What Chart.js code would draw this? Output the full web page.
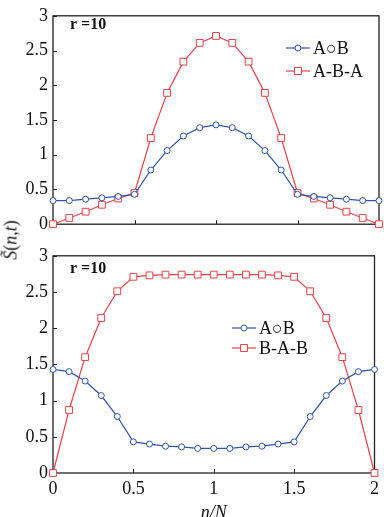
<!DOCTYPE html>
<html>
<head>
<meta charset="utf-8">
<script src="https://cdn.jsdelivr.net/npm/chart.js@4.4.0/dist/chart.umd.min.js"></script>
<style>
  body { margin: 0; background: #fff; }
  #wrap { position: relative; width: 384px; height: 517px; overflow: hidden; }
  .panel { position: absolute; left: 0; width: 384px; }
  #top { top: 0; height: 240px; }
  #bottom { top: 240px; height: 277px; }
  #ylabel {
    position: absolute; left: 11px; top: 240px;
    transform: translate(-50%, -50%) rotate(-90deg);
    font-family: "Liberation Serif", serif; font-size: 18px; white-space: nowrap;
    color: #111; z-index: 2;
  }
</style>
</head>
<body>
<div id="wrap">
  <div class="panel" id="top"><canvas id="topChart"></canvas></div>
  <div class="panel" id="bottom"><canvas id="bottomChart"></canvas></div>
  <div id="ylabel"><i>S&#771;</i>(<i>n</i>,<i>t</i>)</div>
</div>
<script>
// n/N positions
const nN = [0, 0.1, 0.2, 0.3, 0.4, 0.5, 0.6, 0.7, 0.8, 0.9, 1.0,
            1.1, 1.2, 1.3, 1.4, 1.5, 1.6, 1.7, 1.8, 1.9, 2.0];

// top panel
const topAoB = [0.34, 0.34, 0.36, 0.38, 0.40, 0.43, 0.78, 1.06, 1.27, 1.39, 1.43,
                1.39, 1.27, 1.06, 0.78, 0.43, 0.40, 0.38, 0.36, 0.34, 0.34];
const topABA = [0, 0.09, 0.18, 0.28, 0.37, 0.45, 1.24, 1.89, 2.34, 2.61, 2.71,
                2.61, 2.34, 1.89, 1.24, 0.45, 0.37, 0.28, 0.18, 0.09, 0];

// bottom panel
const botAoB = [1.43, 1.40, 1.27, 1.07, 0.78, 0.43, 0.40, 0.37, 0.36, 0.34, 0.34,
                0.34, 0.36, 0.37, 0.40, 0.43, 0.78, 1.07, 1.27, 1.40, 1.43];
const botBAB = [0, 0.87, 1.60, 2.14, 2.51, 2.71, 2.73, 2.74, 2.74, 2.74, 2.74,
                2.74, 2.74, 2.74, 2.73, 2.71, 2.51, 2.14, 1.60, 0.87, 0];

const panelLabel = 'r =10';
const BLUE = '#2f56a6';
const RED = '#e2444b';
const FONT = '"Liberation Serif", "Times New Roman", serif';

const toPoints = vals => nN.map((x, i) => ({ x: x, y: vals[i] }));

function series(label, vals, color, style) {
  return {
    label: label,
    data: toPoints(vals),
    borderColor: color,
    borderWidth: 1.2,
    pointStyle: style,
    pointRadius: style === 'rect' ? 4.8 : 3,
    pointBorderWidth: 1,
    pointBorderColor: color,
    pointBackgroundColor: '#fff',
    clip: false
  };
}

// box frame with short inward ticks, drawn under the data
const frame = {
  id: 'frame',
  beforeDatasetsDraw(chart) {
    const { ctx, chartArea: a, scales: { x, y } } = chart;
    ctx.save();
    ctx.strokeStyle = '#222';
    ctx.lineWidth = 1.3;
    ctx.strokeRect(a.left, a.top, a.right - a.left, a.bottom - a.top);
    ctx.lineWidth = 1;
    ctx.beginPath();
    x.ticks.forEach(t => {
      const px = Math.round(x.getPixelForValue(t.value)) + 0.5;
      ctx.moveTo(px, a.bottom);
      ctx.lineTo(px, a.bottom - 4);
    });
    y.ticks.forEach(t => {
      const py = Math.round(y.getPixelForValue(t.value)) + 0.5;
      ctx.moveTo(a.left, py);
      ctx.lineTo(a.left + 4, py);
    });
    ctx.stroke();
    ctx.restore();
  }
};

// "r =10" tag and line+marker legend
const decor = {
  id: 'decor',
  afterDraw(chart, args, opts) {
    const { ctx } = chart;
    ctx.save();
    ctx.fillStyle = '#111';
    ctx.font = 'bold 16px ' + FONT;
    ctx.textBaseline = 'middle';
    ctx.fillText(panelLabel, opts.tagX, opts.tagY);
    ctx.font = '18px ' + FONT;
    chart.data.datasets.forEach((ds, i) => {
      const y = opts.legY[i];
      const x0 = opts.legX;
      ctx.strokeStyle = ds.borderColor;
      ctx.lineWidth = 1.2;
      ctx.beginPath();
      ctx.moveTo(x0, y);
      ctx.lineTo(x0 + 24, y);
      ctx.stroke();
      ctx.fillStyle = '#fff';
      ctx.beginPath();
      if (ds.pointStyle === 'rect') {
        ctx.rect(x0 + 8.5, y - 3.5, 7, 7);
      } else {
        ctx.arc(x0 + 12, y, 3, 0, Math.PI * 2);
      }
      ctx.fill();
      ctx.lineWidth = 1;
      ctx.stroke();
      ctx.fillStyle = '#111';
      ctx.fillText(ds.label, x0 + 27, y + 1);
    });
    ctx.restore();
  }
};

function makeChart(id, datasets, showX, decorOpts) {
  return new Chart(document.getElementById(id), {
    type: 'line',
    data: { datasets: datasets },
    plugins: [frame, decor],
    options: {
      responsive: true,
      maintainAspectRatio: false,
      animation: false,
      layout: { autoPadding: false, padding: { left: 0, right: 5, top: showX ? 14 : 7, bottom: 0 } },
      plugins: {
        legend: { display: false },
        tooltip: { enabled: false },
        decor: decorOpts
      },
      scales: {
        x: {
          type: 'linear',
          min: 0, max: 2,
          grid: { display: false, drawTicks: false },
          border: { display: false },
          ticks: {
            display: showX,
            stepSize: 0.5,
            padding: 5,
            color: '#111',
            font: { family: FONT, size: 18 },
            callback: v => String(v)
          },
          title: {
            display: showX,
            text: 'n/N',
            color: '#111',
            padding: { top: 0, bottom: 0 },
            font: { family: FONT, size: 18, style: 'italic', lineHeight: 0.45 }
          },
          afterFit: s => { s.height = showX ? 44 : 12; }
        },
        y: {
          min: 0, max: 3,
          grid: { display: false, drawTicks: false },
          border: { display: false },
          ticks: {
            stepSize: 0.5,
            padding: 5,
            color: '#111',
            font: { family: FONT, size: 18 },
            callback: v => String(v)
          },
          afterFit: s => { s.width = 53; }
        }
      }
    }
  });
}

makeChart('topChart', [
  series('A\u25CBB', topAoB, BLUE, 'circle'),
  series('A-B-A', topABA, RED, 'rect')
], false, { tagX: 70, tagY: 25, legX: 286, legY: [48, 71] });

makeChart('bottomChart', [
  series('A\u25CBB', botAoB, BLUE, 'circle'),
  series('B-A-B', botBAB, RED, 'rect')
], true, { tagX: 70, tagY: 29, legX: 232, legY: [88, 108] });
</script>
</body>
</html>
